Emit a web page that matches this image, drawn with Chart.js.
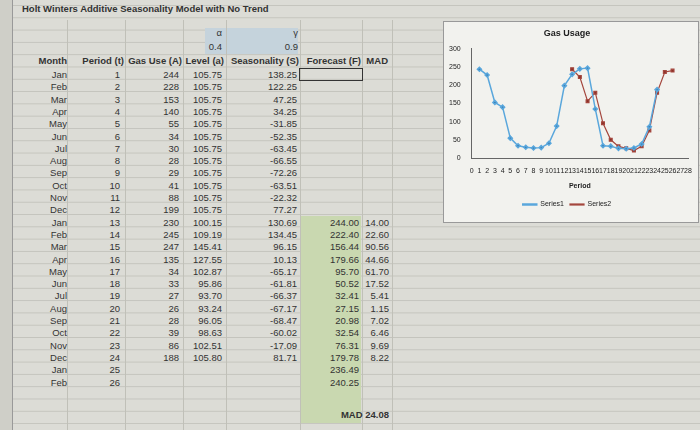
<!DOCTYPE html>
<html><head><meta charset="utf-8">
<script src="https://cdn.jsdelivr.net/npm/chart.js@4"></script>
<style>
body{margin:0;width:700px;height:430px;background:#dcdcd6;font-family:"Liberation Sans",Arial,sans-serif;overflow:hidden;position:relative}
#sheet{position:absolute;left:0;top:0;width:700px;height:430px;
 background-image:linear-gradient(#c4c4bd 1px,transparent 1px);background-size:100% 12.3px;background-position:0 5px}
.c{position:absolute;font-size:9.5px;color:#333;white-space:nowrap}
.r{text-align:right}
.rn{position:absolute;left:0;width:12px;height:430px;background:#cfcfc8;border-right:1px solid #999}
.vl{position:absolute;top:20px;height:410px;width:1px;background:#c0c0b8}
#chartbox{position:absolute;left:443px;top:21px;width:254px;height:200px;background:#f2f2ee;border:1px solid #999}
</style></head><body>
<div id="sheet"></div>
<div class="rn"></div>
<div id="cells"></div>
<div id="chartbox"><canvas id="c" width="254" height="200"></canvas></div>
<script>
const months = ["Jan","Feb","Mar","Apr","May","Jun","Jul","Aug","Sep","Oct","Nov","Dec","Jan","Feb","Mar","Apr","May","Jun","Jul","Aug","Sep","Oct","Nov","Dec","Jan","Feb"];
const gasUse = [244,228,153,140,55,34,30,28,29,41,88,199,230,245,247,135,34,33,27,26,28,39,86,188];
const level = ["105.75","105.75","105.75","105.75","105.75","105.75","105.75","105.75","105.75","105.75","105.75","105.75","100.15","109.19","145.41","127.55","102.87","95.86","93.70","93.24","96.05","98.63","102.51","105.80"];
const season = ["138.25","122.25","47.25","34.25","-31.85","-52.35","-63.45","-66.55","-72.26","-63.51","-22.32","77.27","130.69","134.45","96.15","10.13","-65.17","-61.81","-66.37","-67.17","-68.47","-60.02","-17.09","81.71"];
const forecast = [244.00,222.40,156.44,179.66,95.70,50.52,32.41,27.15,20.98,32.54,76.31,179.78,236.49,240.25];
const mad = ["14.00","22.60","90.56","44.66","61.70","17.52","5.41","1.15","7.02","6.46","9.69","8.22"];
const xTicks = [0,1,2,3,4,5,6,7,8,9,10,11,12,13,14,15,16,17,18,19,20,21,22,23,24,25,26,27,28];

const cells = document.getElementById("cells");
function cell(x, y, txt, opts){
  const d = document.createElement("div");
  d.className = "c" + (opts && opts.left ? "" : " r");
  if(opts && opts.left){ d.style.left = x+"px"; } else { d.style.right = (700-x)+"px"; }
  d.style.top = (y-6)+"px";
  if(opts && opts.bold) d.style.fontWeight = "bold";
  d.textContent = txt;
  cells.appendChild(d);
}
// green forecast block
const g = document.createElement("div");
g.style.cssText = "position:absolute;left:300px;top:216px;width:61px;height:207px;background:#c9d8b0";
cells.appendChild(g);
const g2 = document.createElement("div");
g2.style.cssText = "position:absolute;left:205px;top:28px;width:93px;height:26px;background:#c5d3dc";
cells.appendChild(g2);
[67,125,183,226,300,362,392].forEach(x=>{const v=document.createElement("div");v.className="vl";v.style.left=x+"px";cells.appendChild(v);});

cell(22, 9, "Holt Winters Additive Seasonality Model with No Trend", {left:true, bold:true});
cell(222, 33, "α"); cell(298, 33, "γ");
cell(222, 47, "0.4"); cell(298, 47, "0.9");
const rowY = i => 75 + i*12.3;
cell(67, 61, "Month", {bold:true}); cell(124, 61, "Period (t)", {bold:true});
cell(182, 61, "Gas Use  (A)", {bold:true}); cell(224, 61, "Level (a)", {bold:true});
cell(299, 61, "Seasonality (S)", {bold:true}); cell(361, 61, "Forecast (F)", {bold:true}); cell(388, 61, "MAD", {bold:true});
months.forEach((m,i)=>{
  cell(67, rowY(i), m); cell(120, rowY(i), String(i+1));
  if(i < gasUse.length){
    cell(179, rowY(i), String(gasUse[i])); cell(222, rowY(i), level[i]); cell(297, rowY(i), season[i]);
  }
  if(i >= 12) cell(359, rowY(i), forecast[i-12].toFixed(2));
  if(i >= 12 && i-12 < mad.length) cell(389, rowY(i), mad[i-12]);
});
cell(389, 415, "MAD 24.08", {bold:true});
const r6 = document.createElement("div");
r6.style.cssText = "position:absolute;left:299px;top:68px;width:62px;height:11px;border:1.5px solid #333";
cells.appendChild(r6);

const s1 = gasUse.map((v,i)=>({x:i+1, y:v}));
const s2 = forecast.map((v,i)=>({x:i+13, y:v}));
new Chart(document.getElementById("c"), {
  type: 'line',
  data: { datasets: [
    { label:'Series1', data:s1, borderColor:'#5aa7dc', backgroundColor:'#3a7fb5', borderWidth:1.5, pointRadius:2, pointStyle:'rectRot' },
    { label:'Series2', data:s2, borderColor:'#a4463d', backgroundColor:'#8a3028', borderWidth:1.2, pointRadius:2, pointStyle:'rect' }
  ]},
  options: {
    responsive:false, animation:false,
    layout:{ padding:{ left:2, right:10, top:0, bottom:4 } },
    plugins:{
      title:{ display:true, text:'Gas Usage', color:'#222', font:{size:9, weight:'bold'}, padding:{top:6,bottom:10} },
      legend:{ position:'bottom', labels:{ boxWidth:14, boxHeight:1, font:{size:7}, color:'#222', padding:6 } }
    },
    scales:{
      x:{ type:'linear', min:0, max:28, afterBuildTicks:ax=>{ ax.ticks = xTicks.map(v=>({value:v})); },
          ticks:{ autoSkip:false, maxRotation:0, font:{size:7}, color:'#222', padding:1 },
          grid:{ display:false }, border:{ color:'#666' },
          title:{ display:true, text:'Period', font:{size:7, weight:'bold'}, color:'#222', padding:5 } },
      y:{ min:0, max:300, ticks:{ stepSize:50, font:{size:7}, color:'#222' }, grid:{ display:false }, border:{ color:'#666' } }
    }
  }
});
</script>
</body></html>
